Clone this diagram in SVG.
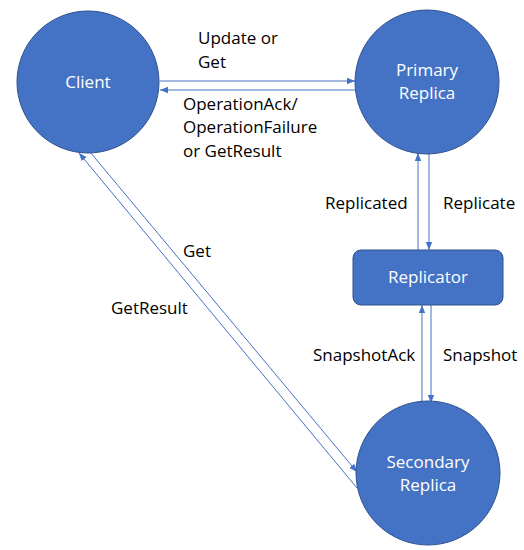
<svg xmlns="http://www.w3.org/2000/svg" width="524" height="550" viewBox="0 0 524 550">
<style>
.node{fill:#4472C4;stroke:#2F528F;stroke-width:1}
.nt{font-family:"Open Sans","Noto Sans",sans-serif;font-size:17px;fill:#ffffff;text-anchor:middle}
.lb{font-family:"Open Sans","Noto Sans",sans-serif;font-size:17px;fill:#000000}
.c{stroke:#4472C4;stroke-width:1;fill:none;marker-end:url(#ah)}
</style>
<defs>
<marker id="ah" viewBox="0 0 8 8" refX="8" refY="4" markerWidth="8" markerHeight="8" markerUnits="userSpaceOnUse" orient="auto">
<path d="M0,0.8 L8,4 L0,7.2 Z" fill="#4472C4"/>
</marker>
</defs>
<rect width="524" height="550" fill="#ffffff"/>
<g id="connectors">
<line class="c" x1="160" y1="81" x2="355" y2="81"/>
<line class="c" x1="355" y1="90" x2="160" y2="90"/>
<line class="c" x1="418" y1="250" x2="418" y2="153"/>
<line class="c" x1="429" y1="153" x2="429" y2="250"/>
<line class="c" x1="422" y1="404" x2="422" y2="305"/>
<line class="c" x1="431" y1="305" x2="431" y2="403"/>
<line class="c" x1="357" y1="488" x2="79" y2="153"/>
<line class="c" x1="90" y1="152" x2="357" y2="472"/>
</g>
<g id="client">
<circle class="node" cx="88" cy="82" r="71"/>
<text class="nt" x="88" y="88">Client</text>
</g>
<g id="primary">
<circle class="node" cx="427" cy="82" r="72"/>
<text class="nt" x="427" y="76">Primary</text>
<text class="nt" x="427" y="99">Replica</text>
</g>
<g id="replicator">
<rect class="node" x="353" y="250" width="150" height="55" rx="8"/>
<text class="nt" x="428" y="283">Replicator</text>
</g>
<g id="secondary">
<circle class="node" cx="428" cy="473" r="72"/>
<text class="nt" x="428" y="468">Secondary</text>
<text class="nt" x="428" y="491">Replica</text>
</g>
<g id="labels">
<text class="lb" x="198" y="44">Update or</text>
<text class="lb" x="198" y="68">Get</text>
<text class="lb" x="183" y="110">OperationAck/</text>
<text class="lb" x="183" y="133">OperationFailure</text>
<text class="lb" x="183" y="157">or GetResult</text>
<text class="lb" x="325" y="209">Replicated</text>
<text class="lb" x="443" y="209">Replicate</text>
<text class="lb" x="313" y="361">SnapshotAck</text>
<text class="lb" x="443" y="361">Snapshot</text>
<text class="lb" x="183" y="257">Get</text>
<text class="lb" x="111" y="314">GetResult</text>
</g>
</svg>
